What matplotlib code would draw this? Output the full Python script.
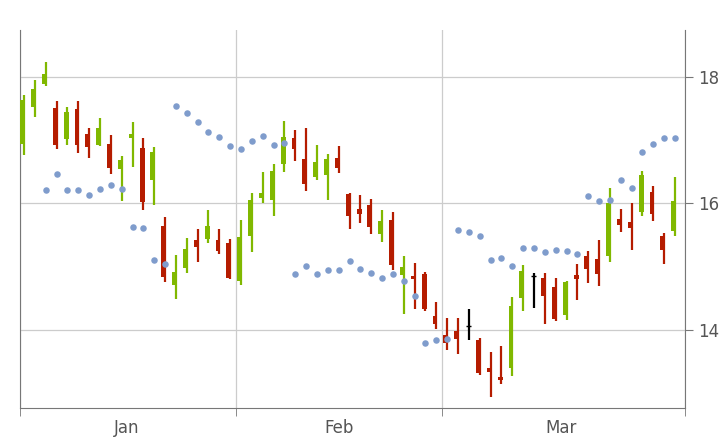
import matplotlib
matplotlib.use("Agg")
import matplotlib.pyplot as plt
import numpy as np

opens = [16.94,17.53,17.88,17.51,17.02,17.49,17.10,16.93,16.94,16.55,
         17.04,16.88,16.37,15.65,14.71,14.98,15.43,15.44,15.43,15.38,
         14.78,15.49,16.09,16.06,16.63,17.04,16.70,16.42,16.45,16.72,
         16.15,15.91,15.98,15.52,15.74,14.87,14.86,14.89,14.22,13.92,
         13.99,14.07,13.85,13.40,13.26,13.40,14.51,14.86,14.82,14.68,
         14.24,14.87,15.17,15.12,15.17,15.76,15.71,15.87,16.18,15.49,15.57]
highs = [17.72,17.95,18.24,17.62,17.53,17.62,17.19,17.35,17.08,16.75,
         17.29,17.04,16.89,15.79,15.19,15.46,15.60,15.90,15.60,15.44,
         15.74,16.17,16.50,16.63,17.30,17.16,17.19,16.93,16.78,16.91,
         16.17,16.14,16.07,15.90,15.87,15.17,15.06,14.92,14.45,14.19,
         14.19,14.33,13.88,13.66,13.75,14.52,15.03,14.90,14.90,14.82,
         14.78,15.05,15.25,15.42,16.25,15.91,16.01,16.52,16.28,15.54,16.42]
lows = [16.77,17.37,17.86,16.86,16.93,16.80,16.72,16.91,16.47,16.04,
        16.58,15.90,15.98,14.76,14.49,14.90,15.08,15.38,15.20,14.81,
        14.71,15.24,16.01,15.80,16.50,16.67,16.20,16.37,16.06,16.48,
        15.60,15.69,15.52,15.39,14.95,14.26,14.33,14.30,14.02,13.69,
        13.62,13.85,13.29,12.94,13.15,13.28,14.30,14.35,14.10,14.15,
        14.16,14.48,14.75,14.70,15.08,15.55,15.27,15.80,15.73,15.05,15.49]
closes = [17.64,17.81,18.05,16.93,17.45,16.93,16.89,17.19,16.56,16.69,
          17.10,16.03,16.82,14.84,14.92,15.28,15.31,15.65,15.25,14.82,
          15.47,16.06,16.17,16.52,17.05,16.86,16.31,16.66,16.70,16.56,
          15.80,15.84,15.63,15.73,15.03,15.00,14.81,14.33,14.10,13.80,
          13.86,14.07,13.32,13.34,13.21,14.38,14.94,14.86,14.54,14.18,
          14.76,14.81,14.97,14.89,16.01,15.66,15.61,16.45,15.84,15.27,16.04]
sar_start = 2
sar = [16.21,16.47,16.21,16.21,16.14,16.23,16.29,16.23,
       15.63,15.61,15.11,15.05,17.54,17.43,17.29,17.13,17.05,16.91,
       16.86,16.99,17.07,16.93,16.96,14.89,15.01,14.89,14.95,14.95,
       15.09,14.97,14.90,14.82,14.89,14.78,14.54,13.80,13.85,13.86,
       15.58,15.55,15.49,15.11,15.14,15.01,15.30,15.30,15.24,15.27,15.25,15.20,
       16.12,16.04,16.06,16.37,16.25,16.82,16.94,17.04,17.04]
month_labels = ["Jan", "Feb", "Mar"]
month_starts = [0, 20, 39]

GREEN = "#80b800"
RED = "#b51c00"
n = len(opens)
x = np.arange(n)
o = np.array(opens); h = np.array(highs); l = np.array(lows); c = np.array(closes)
cols = [GREEN if cc > oo else (RED if cc < oo else "black") for oo, cc in zip(o, c)]

fig = plt.figure(figsize=(7.2, 4.46), dpi=100)
ax = fig.add_axes([20/720, 38/446, 665/720, 378/446])
ax.vlines(x, l, h, colors=cols, linewidth=1.6, zorder=3)
bot = np.minimum(o, c); top = np.maximum(o, c)
ax.bar(x - 0.12, top - bot, bottom=bot, width=0.45, color=cols, linewidth=0, zorder=3)
for i in range(n):
    if o[i] == c[i]:
        ax.hlines(o[i], i - 0.3, i + 0.2, colors="black", linewidth=1, zorder=3)
sx = np.arange(sar_start, sar_start + len(sar))
ax.scatter(sx, sar, s=22, color="#7f9ccc", zorder=4, linewidths=0)

ax.set_xlim(-0.37, 60.92)
ax.set_ylim(12.77, 18.74)
bounds = [m - 0.5 for m in month_starts[1:]]
ax.set_xticks([-0.37] + bounds + [60.92], minor=True)
ends = month_starts[1:] + [n]
ax.set_xticks([(s + e - 1) / 2 for s, e in zip(month_starts, ends)])
ax.set_xticklabels(month_labels)
ax.tick_params(axis="x", which="major", length=0, labelsize=12, labelcolor="#555555", pad=8)
ax.tick_params(axis="x", which="minor", length=6, color="#777777")
ax.grid(True, which="minor", axis="x", color="#cccccc", linewidth=0.9)
ax.yaxis.tick_right()
ax.set_yticks([14, 16, 18])
ax.tick_params(axis="y", length=6, color="#777777", labelsize=12, labelcolor="#555555")
ax.grid(True, axis="y", color="#cccccc", linewidth=0.9)
ax.set_axisbelow(True)
for s in ["left", "right", "bottom"]:
    ax.spines[s].set_color("#777777")
ax.spines["top"].set_visible(False)
fig.savefig("out.png", dpi=100)
